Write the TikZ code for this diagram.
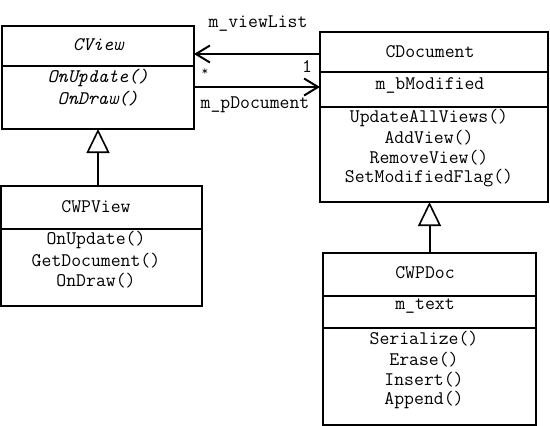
\documentclass[tikz,border=0pt]{standalone}
\usetikzlibrary{arrows.meta}
\begin{document}
\begin{tikzpicture}[x=1pt,y=-1pt,
  box/.style={draw,line width=2pt,outer sep=0pt,inner sep=0pt},
  lbl/.style={font=\ttfamily\fontsize{19.2}{22}\selectfont,inner sep=0pt,anchor=center},
  small/.style={font=\ttfamily\fontsize{13}{15}\selectfont,inner sep=0pt,anchor=center},
  assoc/.style={line width=2pt,-{Straight Barb[length=14pt,width=17pt,line width=2pt]}},
  gen/.style={line width=2pt,-{Triangle[open,fill=white,length=24pt,width=23pt,line width=1.6pt]}},
  div/.style={line width=2pt}]
\useasboundingbox (0,0) rectangle (550,426);
% boxes
\node[box,minimum width=192pt,minimum height=103pt] (cview) at (98,77.5) {};
\node[box,minimum width=228pt,minimum height=170pt] (cdoc) at (434,117) {};
\node[box,minimum width=201pt,minimum height=120pt] (cwpview) at (101.5,246) {};
\node[box,minimum width=213pt,minimum height=172pt] (cwpdoc) at (429.5,338.5) {};
% dividers
\draw[div] (cview.west |- 0,66) -- (cview.east |- 0,66);
\draw[div] (cdoc.west |- 0,72) -- (cdoc.east |- 0,72);
\draw[div] (cdoc.west |- 0,107) -- (cdoc.east |- 0,107);
\draw[div] (cwpview.west |- 0,229) -- (cwpview.east |- 0,229);
\draw[div] (cwpdoc.west |- 0,296) -- (cwpdoc.east |- 0,296);
\draw[div] (cwpdoc.west |- 0,328) -- (cwpdoc.east |- 0,328);
% texts
\node[lbl] (t1) at (98,45) {\itshape CView};
\node[lbl] (t2) at (98,78) {\itshape OnUpdate()};
\node[lbl] (t3) at (98,99) {\itshape OnDraw()};
\node[lbl] (t4) at (430,52) {CDocument};
\node[lbl] (t5) at (430,85) {m\_bModified};
\node[lbl] (t6) at (429,118) {UpdateAllViews()};
\node[lbl] (t7) at (429,138) {AddView()};
\node[lbl] (t8) at (429,158) {RemoveView()};
\node[lbl] (t9) at (429,178) {SetModifiedFlag()};
\node[lbl] (t10) at (96,207) {CWPView};
\node[lbl] (t11) at (96,240) {OnUpdate()};
\node[lbl] (t12) at (96,261) {GetDocument()};
\node[lbl] (t13) at (96,281) {OnDraw()};
\node[lbl] (t14) at (425,273) {CWPDoc};
\node[lbl] (t15) at (425,306) {m\_text};
\node[lbl] (t16) at (424,339) {Serialize()};
\node[lbl] (t17) at (424,360) {Erase()};
\node[lbl] (t18) at (424,380) {Insert()};
\node[lbl] (t19) at (424,400) {Append()};
% connectors
\coordinate (a1) at ([yshift=-22pt]cdoc.north west);
\coordinate (a2) at ([yshift=-28pt]cview.north east);
\draw[assoc] (a1) -- (a2);
\coordinate (b1) at ([yshift=-61pt]cview.north east);
\coordinate (b2) at ([yshift=-55pt]cdoc.north west);
\draw[assoc] (b1) -- (b2);
\draw[gen] (cwpview.north -| cview.south) -- (cview.south);
\draw[gen] (cwpdoc.north) -- (cwpdoc.north |- cdoc.south);
% connector labels
\node[lbl] (l1) at (258,24) {m\_viewList};
\node[small] (l2) at (205,72) {*};
\node[lbl] (l3) at (307,67) {1};
\node[lbl] (l4) at (255,105) {m\_pDocument};
\end{tikzpicture}
\end{document}
